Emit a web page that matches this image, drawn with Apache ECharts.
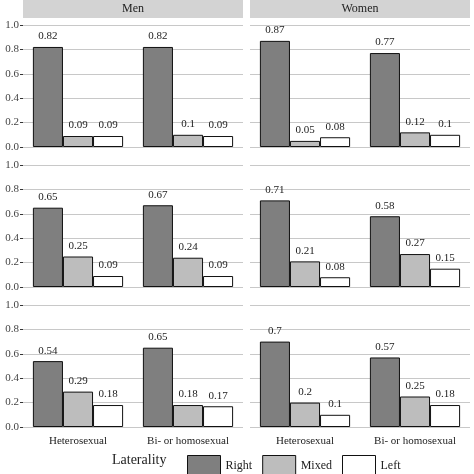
<!DOCTYPE html>
<html>
<head>
<meta charset="utf-8">
<script src="https://cdn.jsdelivr.net/npm/echarts@6/dist/echarts.min.js"></script>
</head>
<body style="margin:0">
<div id="div1" style="width:474px;height:474px"></div>
<script type="text/javascript">
var categories = ['Heterosexual', 'Bi- or homosexual'];
var panels = ['Men', 'Women'];
var levels = ['Right', 'Mixed', 'Left'];
var yTicks = ['0.0', '0.2', '0.4', '0.6', '0.8', '1.0'];
// values[row][col][level] -> [heterosexual, bi/homo]
var menRow1 = [[0.82, 0.82], [0.09, 0.1], [0.09, 0.09]];
var menRow2 = [[0.65, 0.67], [0.25, 0.24], [0.09, 0.09]];
var menRow3 = [[0.54, 0.65], [0.29, 0.18], [0.18, 0.17]];
var womenRow1 = [[0.87, 0.77], [0.05, 0.12], [0.08, 0.1]];
var womenRow2 = [[0.71, 0.58], [0.21, 0.27], [0.08, 0.15]];
var womenRow3 = [[0.7, 0.57], [0.2, 0.25], [0.1, 0.18]];
var values = [[menRow1, womenRow1], [menRow2, womenRow2], [menRow3, womenRow3]];
var colors = ['#7f7f7f', '#bdbdbd', '#ffffff'];

var font = 'Liberation Serif';
var myChart = echarts.init(document.getElementById('div1'));
var tops = [25, 165, 305];
var lefts = [23, 250];
var grids = [], xAxes = [], yAxes = [], series = [];
var idx = 0;
for (var r = 0; r < 3; r++) {
  for (var c = 0; c < 2; c++) {
    grids.push({left: lefts[c], top: tops[r], width: 220, height: 122});
    xAxes.push({
      type: 'category', gridIndex: idx, data: categories,
      axisLine: {show: false}, axisTick: {show: false},
      axisLabel: {show: r === 2, color: '#222', fontFamily: font, fontSize: 11, margin: 9}
    });
    yAxes.push({
      type: 'value', gridIndex: idx, min: 0, max: 1, interval: 0.2,
      axisLine: {show: false},
      axisTick: {show: c === 0, length: 3, lineStyle: {color: '#333'}},
      axisLabel: {show: c === 0, color: '#444', fontFamily: font, fontSize: 11, margin: 4,
        formatter: function (v) { return yTicks[Math.round(v / 0.2)] || ''; }},
      splitLine: {lineStyle: {color: '#c8c8c8', width: 1.2}}
    });
    for (var k = 0; k < 3; k++) {
      series.push({
        name: levels[k], type: 'bar', xAxisIndex: idx, yAxisIndex: idx,
        data: values[r][c][k], barGap: '0%', barCategoryGap: '18%',
        itemStyle: {color: colors[k], borderColor: '#111', borderWidth: 1},
        label: {show: true, position: 'top', color: '#222', fontFamily: font, fontSize: 11,
          formatter: function (p) { return String(p.value); }}
      });
    }
    idx++;
  }
}

var option = {
  animation: false,
  textStyle: {fontFamily: font},
  grid: grids, xAxis: xAxes, yAxis: yAxes, series: series,
  legend: {
    data: levels, top: 450, left: 182, itemWidth: 33, itemHeight: 20, itemGap: 10,
    icon: 'rect',
    textStyle: {fontFamily: font, fontSize: 12, color: '#222'},
    itemStyle: {borderColor: '#111', borderWidth: 1}
  },
  graphic: [
    {type: 'rect', shape: {x: lefts[0], y: 0, width: 220, height: 18}, style: {fill: '#d3d3d3'}},
    {type: 'rect', shape: {x: lefts[1], y: 0, width: 220, height: 18}, style: {fill: '#d3d3d3'}},
    {type: 'text', x: lefts[0] + 110, y: 9, style: {text: panels[0], font: '12px "Liberation Serif"', fill: '#222', align: 'center', verticalAlign: 'middle'}},
    {type: 'text', x: lefts[1] + 110, y: 9, style: {text: panels[1], font: '12px "Liberation Serif"', fill: '#222', align: 'center', verticalAlign: 'middle'}},
    {type: 'text', x: 112, y: 460, style: {text: 'Laterality', font: '14px "Liberation Serif"', fill: '#222', verticalAlign: 'middle'}}
  ]
};
myChart.setOption(option);
</script>
</body>
</html>
